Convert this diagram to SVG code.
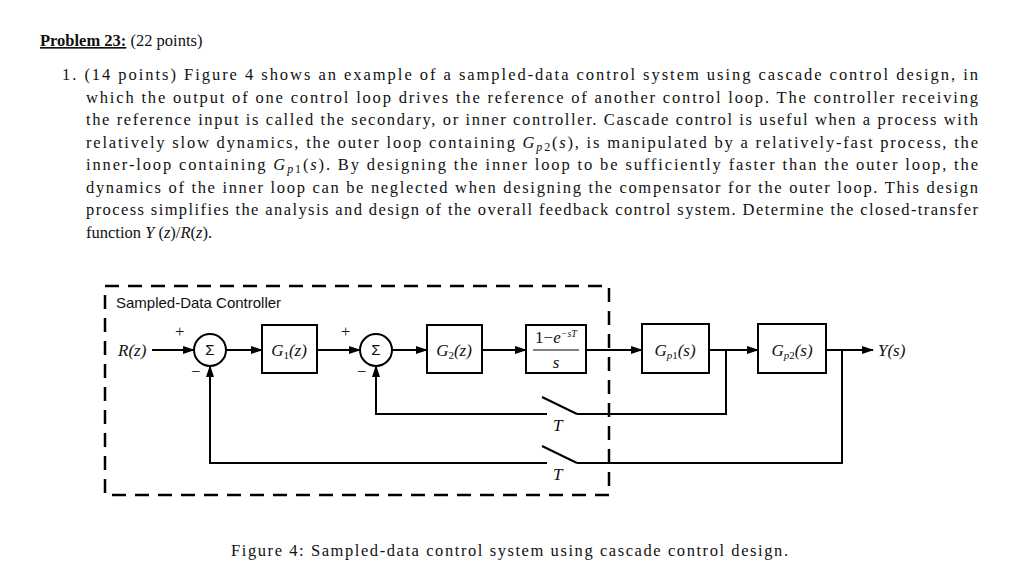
<svg xmlns="http://www.w3.org/2000/svg" width="1024" height="584" viewBox="0 0 1024 584">
<style>
.t{font-family:"Liberation Serif",serif;font-size:16.5px;fill:#111}
.d{font-family:"Liberation Serif",serif;font-size:17px;font-style:italic;fill:#111}
.s{font-family:"Liberation Sans",sans-serif;font-size:15px;fill:#111}
.b{fill:#fff;stroke:#000;stroke-width:2}
.w{fill:none;stroke:#000;stroke-width:2}
</style>
<defs><marker id="a" markerWidth="12" markerHeight="8" refX="11" refY="4" orient="auto" markerUnits="userSpaceOnUse"><path d="M0,0L12,4L0,8z"/></marker></defs>
<text class="t" x="40" y="46"><tspan font-weight="bold" text-decoration="underline">Problem 23:</tspan> (22 points)</text>
<g class="t">
<text x="62" y="80" textLength="916" lengthAdjust="spacing">1. (14 points) Figure 4 shows an example of a sampled-data control system using cascade control design, in</text>
<text x="86" y="103" textLength="892" lengthAdjust="spacing">which the output of one control loop drives the reference of another control loop. The controller receiving</text>
<text x="86" y="125" textLength="892" lengthAdjust="spacing">the reference input is called the secondary, or inner controller. Cascade control is useful when a process with</text>
<text x="86" y="148" textLength="892" lengthAdjust="spacing">relatively slow dynamics, the outer loop containing <tspan font-style="italic">G</tspan><tspan font-size="12" font-style="italic" dy="3">p</tspan><tspan font-size="12" dy="0">2</tspan><tspan dy="-3">(</tspan><tspan font-style="italic">s</tspan>), is manipulated by a relatively-fast process, the</text>
<text x="86" y="170" textLength="892" lengthAdjust="spacing">inner-loop containing <tspan font-style="italic">G</tspan><tspan font-size="12" font-style="italic" dy="3">p</tspan><tspan font-size="12">1</tspan><tspan dy="-3">(</tspan><tspan font-style="italic">s</tspan>). By designing the inner loop to be sufficiently faster than the outer loop, the</text>
<text x="86" y="193" textLength="892" lengthAdjust="spacing">dynamics of the inner loop can be neglected when designing the compensator for the outer loop. This design</text>
<text x="86" y="215" textLength="892" lengthAdjust="spacing">process simplifies the analysis and design of the overall feedback control system. Determine the closed-transfer</text>
<text x="86" y="238">function <tspan font-style="italic">Y</tspan> (<tspan font-style="italic">z</tspan>)/<tspan font-style="italic">R</tspan>(<tspan font-style="italic">z</tspan>).</text>
</g>
<rect x="105" y="286" width="504" height="209" fill="none" stroke="#000" stroke-width="2.5" stroke-dasharray="14,9"/>
<text class="s" x="116" y="308">Sampled-Data Controller</text>
<g id="connectors" class="w">
<line x1="152" y1="350" x2="194" y2="350" marker-end="url(#a)"/>
<line x1="226" y1="350" x2="262" y2="350" marker-end="url(#a)"/>
<line x1="317" y1="350" x2="360" y2="350" marker-end="url(#a)"/>
<line x1="392" y1="350" x2="427" y2="350" marker-end="url(#a)"/>
<line x1="482" y1="350" x2="526" y2="350" marker-end="url(#a)"/>
<line x1="586" y1="350" x2="642" y2="350" marker-end="url(#a)"/>
<line x1="709" y1="350" x2="758" y2="350" marker-end="url(#a)"/>
<line x1="826" y1="350" x2="873" y2="350" marker-end="url(#a)"/>
<polyline points="726,350 726,414 577,414"/>
<line x1="577" y1="414" x2="542" y2="397"/>
<polyline points="547,414 376,414 376,366" marker-end="url(#a)"/>
<polyline points="842,350 842,463 577,463"/>
<line x1="577" y1="463" x2="542" y2="446"/>
<polyline points="547,463 210,463 210,366" marker-end="url(#a)"/>
</g>
<g id="sum1"><circle class="b" cx="210" cy="350" r="16"/><text class="s" x="210" y="355" text-anchor="middle" font-size="13">Σ</text></g>
<g id="sum2"><circle class="b" cx="376" cy="350" r="16"/><text class="s" x="376" y="355" text-anchor="middle" font-size="13">Σ</text></g>
<g class="t" font-size="14"><text x="175" y="337">+</text><text x="191" y="377">−</text><text x="341" y="337">+</text><text x="357" y="377">−</text></g>
<text class="d" x="118" y="356">R(z)</text>
<g id="G1"><rect class="b" x="262" y="325" width="55" height="48"/><text class="d" x="289" y="356" text-anchor="middle">G<tspan font-size="11" dy="3" font-style="normal">1</tspan><tspan dy="-3">(z)</tspan></text></g>
<g id="G2"><rect class="b" x="427" y="325" width="55" height="48"/><text class="d" x="454" y="356" text-anchor="middle">G<tspan font-size="11" dy="3" font-style="normal">2</tspan><tspan dy="-3">(z)</tspan></text></g>
<g id="ZOH"><rect class="b" x="526" y="325" width="60" height="48"/><text class="d" x="556" y="343" text-anchor="middle" font-size="15"><tspan font-style="normal">1−</tspan>e<tspan font-size="10" dy="-6">−sT</tspan></text><line x1="533" y1="350" x2="579" y2="350" stroke="#000" stroke-width="1"/><text class="d" x="556" y="368" text-anchor="middle" font-size="15">s</text></g>
<g id="Gp1"><rect class="b" x="642" y="324" width="67" height="49"/><text class="d" x="675" y="356" text-anchor="middle">G<tspan font-size="11" dy="3">p</tspan><tspan font-size="11" font-style="normal">1</tspan><tspan dy="-3">(s)</tspan></text></g>
<g id="Gp2"><rect class="b" x="758" y="324" width="68" height="49"/><text class="d" x="792" y="356" text-anchor="middle">G<tspan font-size="11" dy="3">p</tspan><tspan font-size="11" font-style="normal">2</tspan><tspan dy="-3">(s)</tspan></text></g>
<text class="d" x="878" y="356">Y(s)</text>
<text class="d" x="553" y="431" font-size="15">T</text>
<text class="d" x="553" y="480" font-size="15">T</text>
<text class="t" x="231" y="556" textLength="557" lengthAdjust="spacing">Figure 4: Sampled-data control system using cascade control design.</text>
</svg>
